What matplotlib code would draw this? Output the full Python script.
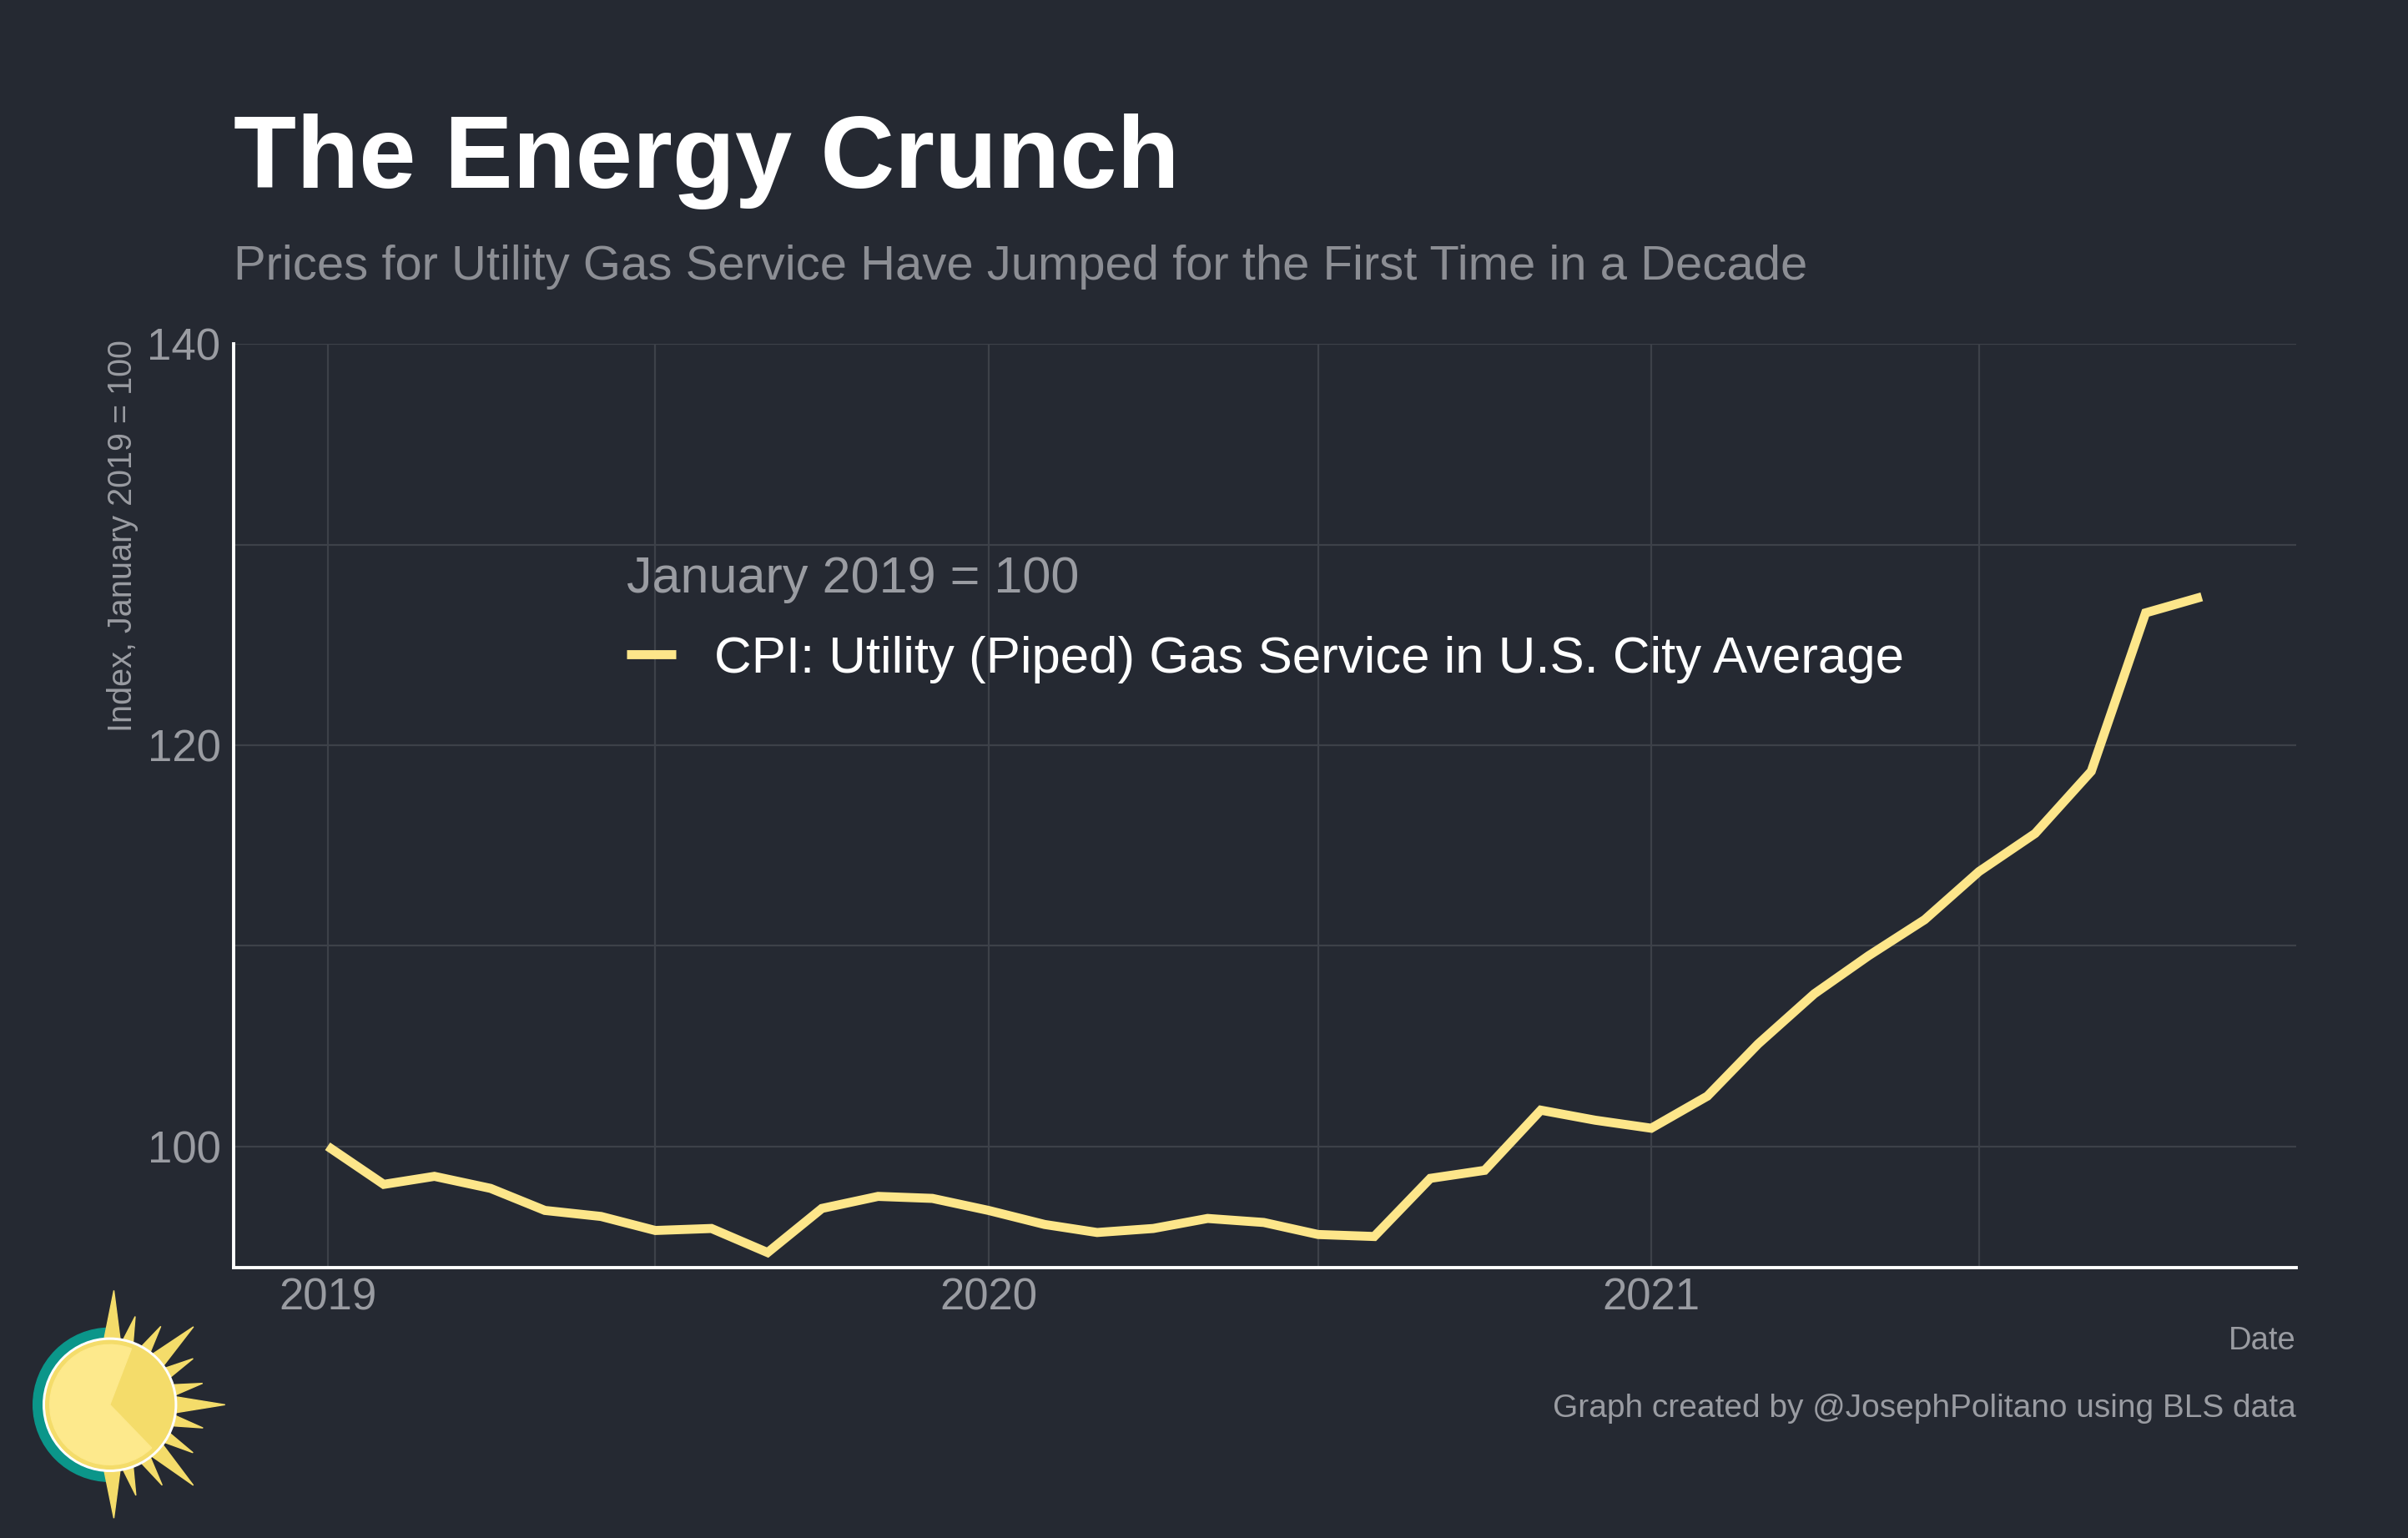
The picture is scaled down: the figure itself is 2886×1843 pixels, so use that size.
import numpy as np
import pandas as pd
import matplotlib
matplotlib.use("Agg")
import matplotlib.pyplot as plt
import matplotlib.dates as mdates
from matplotlib.patches import Circle, Wedge, Polygon
from matplotlib.ticker import MultipleLocator

plt.rcParams['font.family'] = ['Liberation Sans', 'DejaVu Sans']

# data: CPI utility (piped) gas service, index Jan 2019 = 100
dates = pd.date_range("2019-01-01", "2021-11-01", freq="MS")
values = [100.0, 98.1, 98.5, 97.9, 96.8, 96.5, 95.8, 95.9, 94.7, 96.9, 97.5, 97.4,
          96.8, 96.1, 95.7, 95.9, 96.4, 96.2, 95.6, 95.5, 98.4, 98.8, 101.8, 101.3,
          100.9, 102.5, 105.1, 107.6, 109.5, 111.3, 113.7, 115.6, 118.7, 126.6, 127.4]
series_label = "CPI: Utility (Piped) Gas Service in U.S. City Average"
legend_title = "January 2019 = 100"
title = "The Energy Crunch"
subtitle = "Prices for Utility Gas Service Have Jumped for the First Time in a Decade"

bg = '#252932'
grid_c = '#3d4149'
tick_c = '#9a9ca2'
line_c = '#fde68a'

W, H = 2886, 1843
fig = plt.figure(figsize=(W / 100, H / 100), dpi=100, facecolor=bg)

ax = fig.add_axes([152 / 1568, 1 - 825 / 1001, (1495 - 152) / 1568, (825 - 224) / 1001])
ax.set_facecolor(bg)
ax.plot(dates, values, color=line_c, lw=7.8, solid_joinstyle='miter', solid_capstyle='butt',
        label=series_label, zorder=3)

ax.set_xlim(pd.Timestamp("2018-11-10"), pd.Timestamp("2021-12-23"))
ax.set_ylim(93.95, 140)
ax.yaxis.set_major_locator(MultipleLocator(20))
ax.yaxis.set_minor_locator(MultipleLocator(10))
ax.xaxis.set_major_locator(mdates.YearLocator())
ax.xaxis.set_major_formatter(mdates.DateFormatter('%Y'))
ax.xaxis.set_minor_locator(mdates.MonthLocator(bymonth=7))
ax.grid(True, which='both', color=grid_c, lw=1.6, zorder=0)
ax.set_axisbelow(True)
ax.tick_params(which='both', length=0, colors=tick_c, labelsize=38)
ax.tick_params(axis='y', pad=11)
ax.tick_params(axis='x', pad=8)
for s in ['top', 'right']:
    ax.spines[s].set_visible(False)
for s in ['left', 'bottom']:
    ax.spines[s].set_color('white')
    ax.spines[s].set_linewidth(2.8)

leg = ax.legend(loc='upper left', bbox_to_anchor=(408 / 1568, 1 - 362 / 1001),
                bbox_transform=fig.transFigure, frameon=False, fontsize=44.5,
                title=legend_title, title_fontsize=44, alignment='left',
                handlelength=0.95, handletextpad=0.75, labelspacing=0.62,
                borderpad=0, borderaxespad=0)
leg.get_title().set_color(tick_c)
for t in leg.get_texts():
    t.set_color('white')
for h in leg.get_lines():
    h.set_solid_capstyle('butt')

fig.text(152 / 1568, 1 - 122 / 1001, title, color='white', fontsize=88.5, fontweight='bold', va='baseline')
fig.text(152 / 1568, 1 - 182 / 1001, subtitle, color='#8c8e94', fontsize=41.8, va='baseline')
fig.text(80 / 1568, 1 - 221 / 1001, "Index, January 2019 = 100", color=tick_c, fontsize=28.5,
         rotation=90, ha='center', va='top')
fig.text(1495 / 1568, 1 - 873 / 1001, "Date", color=tick_c, fontsize=27.5, ha='right', va='center')
fig.text(1495 / 1568, 1 - 917 / 1001, "Graph created by @JosephPolitano using BLS data",
         color=tick_c, fontsize=28, ha='right', va='center')

# logo: sun in bottom-left corner (pixel units)
lg = fig.add_axes([0, 0, 300 / W, 343 / H])
lg.set_xlim(0, 300)
lg.set_ylim(0, 343)
lg.axis('off')
cx, cy = 131.7, 343 - 183.3
lg.add_patch(Wedge((cx, cy), 92, 90, 270, color='#0b968a', zorder=1))
ray_angles = np.array([88, 74, 57, 43, 29, 13, 0, -14, -30, -44, -57, -74, -88])
ray_len = np.array([137, 110, 112, 137, 114, 114, 138, 115, 115, 139, 115, 113, 136])
for a, r in zip(ray_angles, ray_len):
    half = 11 if r > 130 else 8
    th = np.deg2rad(a)
    base = 70
    px, py = -np.sin(th), np.cos(th)
    pts = [(cx + base * np.cos(th) + half * px, cy + base * np.sin(th) + half * py),
           (cx + r * np.cos(th), cy + r * np.sin(th)),
           (cx + base * np.cos(th) - half * px, cy + base * np.sin(th) - half * py)]
    lg.add_patch(Polygon(pts, closed=True, color='#f4dc6a', zorder=2))
lg.add_patch(Circle((cx, cy), 80, color='white', zorder=3))
lg.add_patch(Circle((cx, cy), 77, color='#f4dc6a', zorder=4))
lg.add_patch(Wedge((cx, cy), 72, 69, 314, color='#fde98c', zorder=5))

fig.savefig('out.png', dpi=100, facecolor=bg)
